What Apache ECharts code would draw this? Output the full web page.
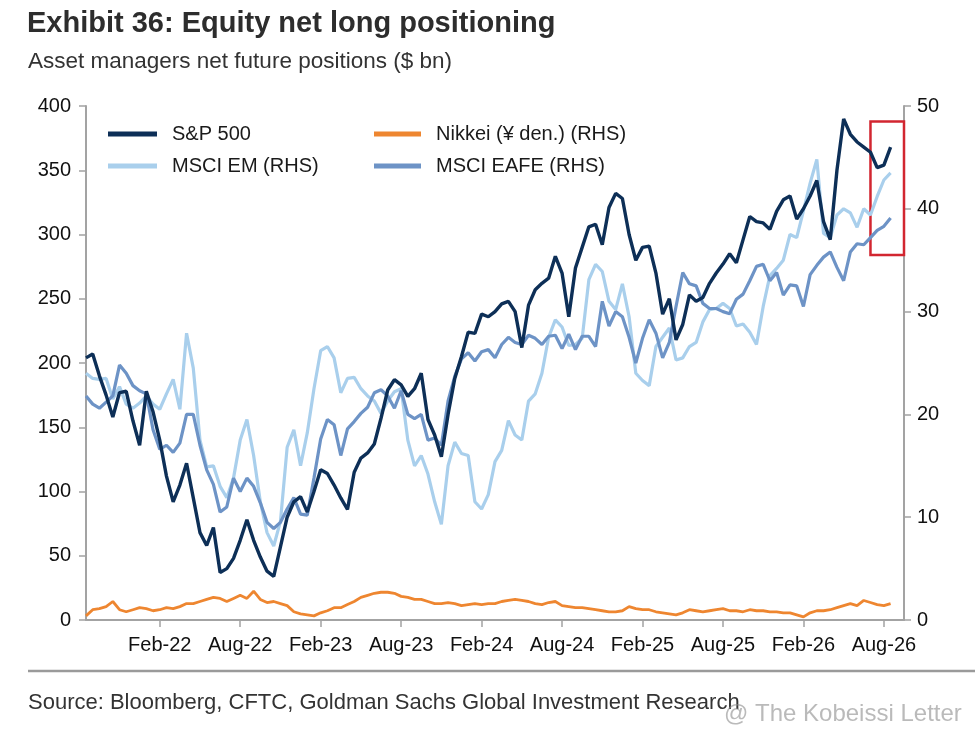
<!DOCTYPE html>
<html>
<head>
<meta charset="utf-8">
<script src="https://cdn.jsdelivr.net/npm/echarts@6.0.0/dist/echarts.min.js"></script>
<style>
  html, body { margin: 0; padding: 0; background: #fff; }
  #chart { width: 975px; height: 739px; }
</style>
</head>
<body>
<div id="chart"></div>
<script type="text/javascript">
// half-month steps, first point mid-Aug 2021
var startYear = 2021, startMonth = 8, pointCount = 123;
var monthNames = ['Jan','Feb','Mar','Apr','May','Jun','Jul','Aug','Sep','Oct','Nov','Dec'];
var tickMonths = [2, 8];   // labels at Feb and Aug

var dates = [];
for (var i = 0; i < pointCount; i++) {
  var k = i + 1;                       // 0 = Aug-15
  var m = startMonth - 1 + Math.floor(k / 2);
  var y = startYear + Math.floor(m / 12);
  var mm = (m % 12) + 1;
  dates.push(y + '-' + (mm < 10 ? '0' : '') + mm + '-' + (k % 2 === 0 ? '01' : '15'));
}

// S&P 500, $ bn (LHS)
var spx = [204,207,190,175,158,177,178,155,136,178,
           162,140,112,92,105,122,95,68,58,72,
           37,40,48,62,78,62,49,38,34,57,
           80,92,96,84,100,117,114,105,95,86,
           115,126,130,137,157,179,187,183,174,180,
           192,156,144,127,160,188,205,224,223,238,
           236,240,246,248,240,212,245,257,262,266,
           283,270,236,274,290,306,308,292,321,332,
           328,300,280,290,291,270,238,250,218,230,
           253,248,251,262,270,277,285,278,296,314,
           310,309,304,318,327,330,312,320,330,342,
           310,296,350,390,378,372,368,364,352,354,
           368];

// MSCI EM (RHS)
var msciEm = [24.0,23.5,23.4,23.5,21.5,22.7,21.0,20.6,21.1,21.8,
              21.0,20.5,22.0,23.4,20.5,27.9,24.5,17.5,14.9,15.0,
              13.0,11.9,13.8,17.5,19.5,16.0,11.5,8.5,7.2,9.6,
              16.8,18.5,15.0,18.2,22.5,26.2,26.6,25.5,22.1,23.5,
              23.6,22.5,21.8,21.3,20.1,21.3,22.2,22.5,17.5,15.0,
              16.0,14.2,11.5,9.3,15.0,17.3,16.2,16.0,11.5,10.8,
              12.2,15.4,16.5,19.4,18.0,17.5,21.3,22.0,24.0,27.5,
              29.2,28.5,26.7,26.8,27.4,33.1,34.6,33.9,31.0,30.2,
              32.7,29.5,24.0,23.3,22.8,26.6,27.5,28.4,25.3,25.5,
              26.6,27.0,29.0,30.2,30.3,30.8,30.3,28.6,28.8,28.0,
              26.8,30.5,33.5,34.2,35.0,37.5,37.2,39.8,42.5,44.8,
              37.6,37.2,39.4,40.0,39.6,38.2,40.0,39.4,41.2,42.8,
              43.5];

// MSCI EAFE (RHS)
var msciEafe = [21.8,21.0,20.6,21.2,21.8,24.8,24.0,22.8,22.3,22.0,
                18.5,16.6,17.0,16.3,17.2,20.0,20.0,17.0,14.6,13.2,
                10.5,11.0,13.8,12.5,13.8,13.0,11.4,9.5,8.9,9.5,
                10.8,11.9,10.3,10.2,13.8,17.6,19.5,19.0,16.0,18.6,
                19.3,20.1,20.7,22.1,22.4,21.8,20.6,22.3,20.0,19.6,
                20.0,17.5,17.7,17.0,21.3,23.7,25.4,26.0,25.2,26.1,
                26.3,25.5,26.8,27.5,27.0,26.8,27.7,27.4,26.8,27.6,
                27.7,26.4,27.8,26.3,27.6,27.6,26.6,31.0,28.6,30.0,
                29.5,27.5,25.0,27.4,29.2,27.9,25.5,27.0,30.5,33.8,
                32.7,32.5,30.8,30.3,30.3,30.0,29.8,31.2,31.7,33.0,
                34.4,34.6,33.0,33.8,31.6,32.6,32.5,30.5,33.6,34.5,
                35.3,35.8,34.3,33.0,35.8,36.6,36.5,37.2,37.9,38.3,
                39.1];

// Nikkei, yen denominated (RHS)
var nikkei = [0.4,1.0,1.1,1.3,1.8,1.0,0.8,1.0,1.2,1.1,
              0.9,1.0,1.2,1.1,1.3,1.6,1.6,1.8,2.0,2.2,
              2.1,1.8,2.1,2.4,2.1,2.8,2.0,1.7,1.8,1.6,
              1.4,0.8,0.6,0.5,0.4,0.7,0.9,1.2,1.2,1.5,
              1.8,2.2,2.4,2.6,2.7,2.7,2.6,2.3,2.2,2.0,
              2.0,1.8,1.6,1.6,1.7,1.6,1.4,1.5,1.6,1.5,
              1.6,1.6,1.8,1.9,2.0,1.9,1.8,1.6,1.5,1.7,
              1.8,1.4,1.3,1.2,1.2,1.1,1.0,0.9,0.8,0.8,
              0.9,1.3,1.1,1.0,1.0,0.8,0.7,0.6,0.5,0.7,
              1.0,0.9,0.8,0.9,1.0,1.1,0.9,0.9,0.8,1.0,
              0.9,0.9,0.8,0.8,0.7,0.7,0.5,0.3,0.7,0.9,
              0.9,1.0,1.2,1.4,1.6,1.4,1.9,1.7,1.5,1.4,
              1.6];

// highlighted window (red box), on the S&P scale
var boxFrom = 117, boxTop = 388, boxBottom = 284;

var FONT = "'Liberation Sans', Arial, sans-serif";
var C_SPX = '#0d2f57', C_EM = '#a9cfec', C_EAFE = '#6d93c6', C_NKY = '#ee8630';

function isTick(index, value) {
  var p = value.split('-');
  return p[2] === '01' && tickMonths.indexOf(+p[1]) >= 0;
}

var axisGrey = { color: '#a3a3a3', width: 2 };

echarts.init(document.getElementById('chart')).setOption({
  animation: false,
  backgroundColor: '#fff',
  textStyle: { fontFamily: FONT },
  title: [
    { text: 'Exhibit 36: Equity net long positioning', left: 27, top: 9, padding: 0,
      textStyle: { fontSize: 29, fontWeight: 'bold', color: '#2d2d2d', fontFamily: FONT } },
    { text: 'Asset managers net future positions ($ bn)', left: 28, top: 50, padding: 0,
      textStyle: { fontSize: 22.5, fontWeight: 'normal', color: '#333', fontFamily: FONT } },
    { text: 'Source: Bloomberg, CFTC, Goldman Sachs Global Investment Research', left: 28, top: 692, padding: 0,
      textStyle: { fontSize: 22, fontWeight: 'normal', color: '#333', fontFamily: FONT } },
    { text: '@ The Kobeissi Letter', left: 724, top: 702, padding: 0,
      textStyle: { fontSize: 24, fontWeight: 'normal', color: 'rgba(140,140,140,0.6)', fontFamily: FONT } }
  ],
  graphic: [
    { type: 'line', shape: { x1: 28, y1: 671, x2: 975, y2: 671 },
      style: { stroke: '#9a9a9a', lineWidth: 2.5 } }
  ],
  legend: [
    { data: ['S&P 500', 'MSCI EM (RHS)'], orient: 'vertical', left: 103, top: 119,
      icon: 'rect', itemWidth: 49, itemHeight: 5, itemGap: 12,
      textStyle: { fontSize: 20, color: '#1a1a1a', padding: [0, 0, 0, 10] } },
    { data: ['Nikkei (¥ den.) (RHS)', 'MSCI EAFE (RHS)'], orient: 'vertical', left: 369, top: 119,
      icon: 'rect', itemWidth: 47, itemHeight: 5, itemGap: 12,
      textStyle: { fontSize: 20, color: '#1a1a1a', padding: [0, 0, 0, 10] } }
  ],
  grid: { left: 86, right: 71, top: 106, bottom: 119 },
  xAxis: {
    type: 'category',
    data: dates,
    boundaryGap: false,
    axisLine: { lineStyle: axisGrey },
    axisTick: { show: true, interval: isTick, length: 7, lineStyle: { color: '#a3a3a3', width: 1.5 } },
    axisLabel: {
      interval: isTick, margin: 15, fontSize: 20, color: '#111',
      formatter: function (v) {
        var p = v.split('-');
        return monthNames[+p[1] - 1] + '-' + p[0].slice(2);
      }
    },
    splitLine: { show: false }
  },
  yAxis: [
    { type: 'value', min: 0, max: 400, interval: 50, position: 'left',
      axisLine: { show: true, lineStyle: axisGrey },
      axisTick: { show: true, length: 7, lineStyle: { color: '#a3a3a3', width: 1.5 } },
      axisLabel: { fontSize: 20, color: '#111', margin: 15 },
      splitLine: { show: false } },
    { type: 'value', min: 0, max: 50, interval: 10, position: 'right',
      axisLine: { show: true, lineStyle: axisGrey },
      axisTick: { show: true, length: 7, lineStyle: { color: '#a3a3a3', width: 1.5 } },
      axisLabel: { fontSize: 20, color: '#111', margin: 13 },
      splitLine: { show: false } }
  ],
  series: [
    { name: 'MSCI EM (RHS)', type: 'line', yAxisIndex: 1, data: msciEm,
      showSymbol: false, color: C_EM, lineStyle: { width: 3.2 }, z: 2 },
    { name: 'MSCI EAFE (RHS)', type: 'line', yAxisIndex: 1, data: msciEafe,
      showSymbol: false, color: C_EAFE, lineStyle: { width: 3.2 }, z: 3 },
    { name: 'Nikkei (¥ den.) (RHS)', type: 'line', yAxisIndex: 1, data: nikkei,
      showSymbol: false, color: C_NKY, lineStyle: { width: 2.8 }, z: 3 },
    { name: 'S&P 500', type: 'line', yAxisIndex: 0, data: spx,
      showSymbol: false, color: C_SPX, lineStyle: { width: 3.4 }, z: 4,
      markArea: {
        silent: true,
        label: { show: false },
        itemStyle: { color: 'rgba(0,0,0,0)', borderColor: '#d22630', borderWidth: 2.5 },
        data: [[{ xAxis: boxFrom, yAxis: boxTop }, { xAxis: dates.length - 1, yAxis: boxBottom }]]
      } }
  ]
});
</script>
</body>
</html>
